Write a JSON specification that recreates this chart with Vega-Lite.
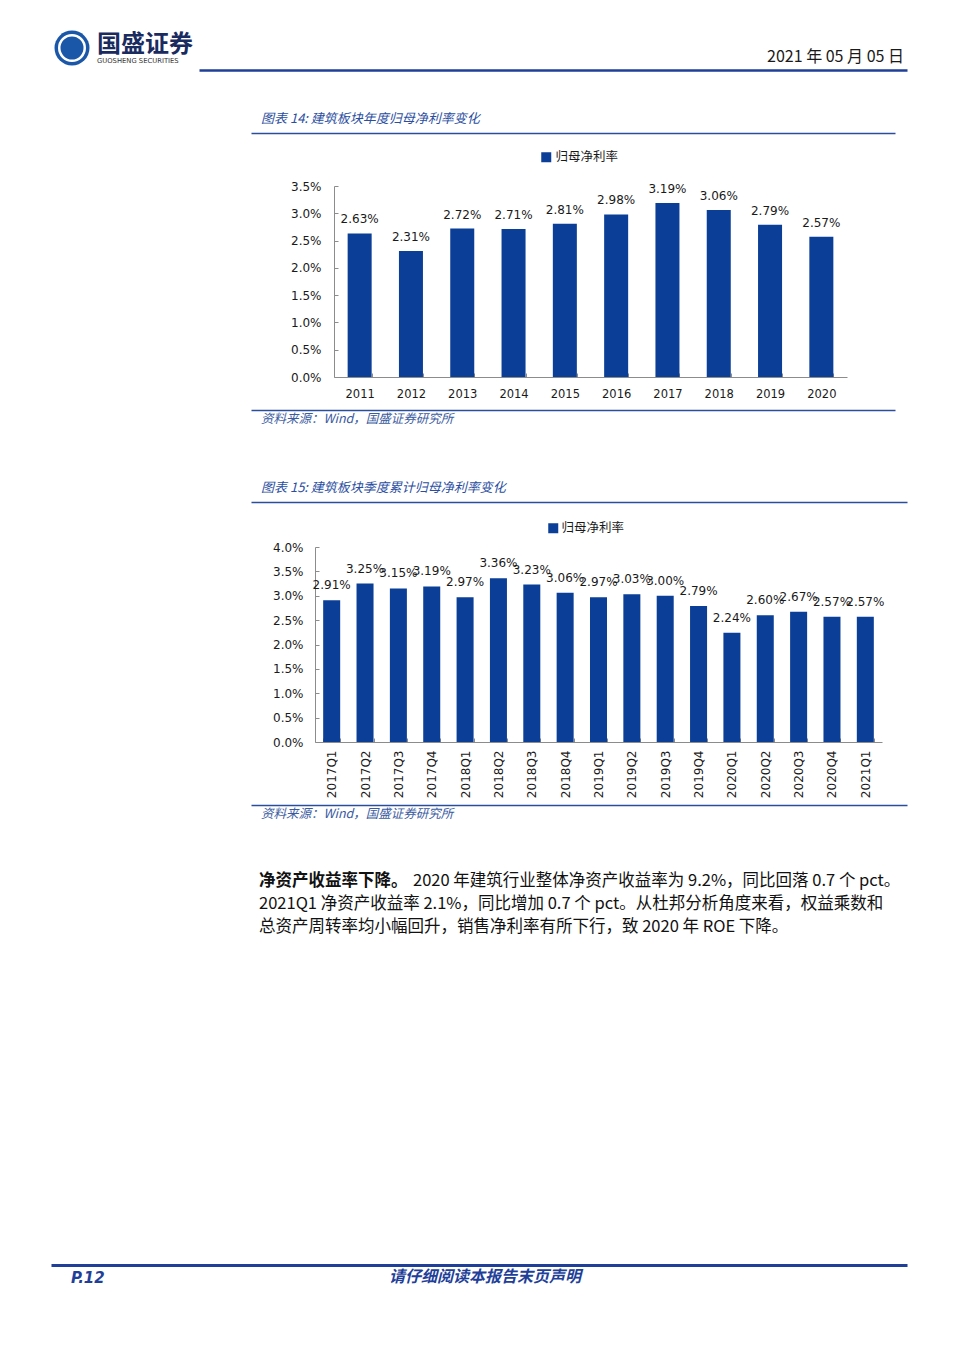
{
  "$schema": "https://vega.github.io/schema/vega-lite/v6.json",
  "padding": {"left": -7, "top": 0, "right": 0, "bottom": 0},
  "background": "white",
  "bounds": "flush",
  "spacing": 0,
  "resolve": {"scale": {"color": "independent"}, "legend": {"color": "independent"}},
  "config": {
    "view": {"stroke": null},
    "font": "DejaVu Sans",
    "title": {"anchor": "start", "frame": "group", "offset": 0, "fontWeight": "normal", "font": "Noto Sans CJK SC", "color": "#222222"},
    "axis": {"grid": false, "title": null, "domainColor": "#8c8c8c", "tickColor": "#8c8c8c", "labelColor": "#1a1a1a", "labelFont": "DejaVu Sans", "labelFontSize": 12}
  },
  "vconcat": [
    {"width": 960, "height": 30, "data": {"values": []}, "mark": "point", "view": {"fill": "white", "stroke": null}},
    {
      "width": 146, "height": 36,
      "data": {"values": [{"t": "S"}]},
      "title": {"text": "国盛证券", "subtitle": "GUOSHENG SECURITIES", "anchor": "start", "dx": 98, "offset": -35, "fontSize": 24, "fontWeight": "bold", "font": "Noto Sans CJK SC", "color": "#1a2b5f", "subtitleFont": "DejaVu Sans", "subtitleFontSize": 6.8, "subtitleColor": "#333333", "subtitlePadding": 1},
      "layer": [
        {"mark": {"type": "point", "shape": "circle", "filled": true, "size": 1225, "color": "#1b57a8", "opacity": 1}},
        {"mark": {"type": "point", "shape": "circle", "filled": false, "size": 650, "color": "white", "strokeWidth": 2.5, "opacity": 1}},
        {"mark": {"type": "text", "color": "#1b57a8", "fontSize": 22, "fontWeight": "bold", "font": "DejaVu Sans", "baseline": "middle"}, "encoding": {"text": {"field": "t"}}}
      ]
    },
    {
      "width": 908, "height": 4,
      "data": {"values": [{}]},
      "mark": {"type": "point", "opacity": 0},
      "encoding": {"x": {"datum": 0, "type": "quantitative", "scale": {"domain": [0, 1], "range": [200, 908]},
        "axis": {"orient": "bottom", "domainColor": "#1f3f99", "domainWidth": 2.5, "ticks": false, "labels": false}}},
      "title": {"text": "2021 年 05 月 05 日", "anchor": "end", "dx": -3, "offset": 0, "fontSize": 16, "font": "Noto Sans CJK SC", "color": "#1a1a1a"}
    },
    {"width": 0.001, "height": 63, "data": {"values": []}, "mark": "point"},
    {
      "width": 896, "height": 0.001,
      "data": {"values": [{}]},
      "mark": {"type": "point", "opacity": 0},
      "encoding": {"x": {"datum": 0, "type": "quantitative", "scale": {"domain": [0, 1], "range": [252, 896]},
        "axis": {"orient": "top", "domainColor": "#2a4d9c", "domainWidth": 1.6, "ticks": false, "labels": false}}},
      "title": {"text": "图表 14:  建筑板块年度归母净利率变化", "anchor": "start", "dx": 262, "offset": 4, "fontSize": 13, "fontStyle": "italic", "color": "#2b4e9f"}
    },
    {"width": 0.001, "height": 52, "data": {"values": []}, "mark": "point"},
    {
      "width": 848, "height": 191,
      "data": {"values": [
        {"year": "2011", "rate": 0.0263},
        {"year": "2012", "rate": 0.0231},
        {"year": "2013", "rate": 0.0272},
        {"year": "2014", "rate": 0.0271},
        {"year": "2015", "rate": 0.0281},
        {"year": "2016", "rate": 0.0298},
        {"year": "2017", "rate": 0.0319},
        {"year": "2018", "rate": 0.0306},
        {"year": "2019", "rate": 0.0279},
        {"year": "2020", "rate": 0.0257}
      ]},
      "encoding": {
        "x": {"field": "year", "type": "ordinal", "sort": null, "scale": {"range": [335, 848], "paddingInner": 0.532, "paddingOuter": 0.266},
              "axis": {"labelAngle": 0, "labelPadding": 15, "tickBand": "extent", "tickSize": -4, "labelFontSize": 11.5}},
        "y": {"field": "rate", "type": "quantitative", "scale": {"domain": [0, 0.035], "nice": false},
              "axis": {"format": ".1%", "values": [0, 0.005, 0.01, 0.015, 0.02, 0.025, 0.03, 0.035], "offset": -335, "tickSize": -4, "labelPadding": 17}}
      },
      "layer": [
        {"mark": {"type": "bar", "stroke": null},
         "encoding": {"color": {"datum": "归母净利率", "scale": {"range": ["#0b3e96"]},
           "legend": {"orient": "none", "legendX": 541, "legendY": -35, "title": null, "symbolType": "square", "symbolSize": 100, "symbolStrokeWidth": 0, "labelFont": "Noto Sans CJK SC", "labelFontSize": 12.5, "labelColor": "#1a1a1a", "padding": 0, "labelOffset": 3}}}},
        {"mark": {"type": "text", "baseline": "middle", "dy": -14, "font": "DejaVu Sans", "fontSize": 12, "color": "#1a1a1a"},
         "encoding": {"text": {"field": "rate", "type": "quantitative", "format": ".2%"}}}
      ]
    },
    {"width": 0.001, "height": 33, "data": {"values": []}, "mark": "point"},
    {
      "width": 896, "height": 0.001,
      "data": {"values": [{}]},
      "mark": {"type": "point", "opacity": 0},
      "encoding": {"x": {"datum": 0, "type": "quantitative", "scale": {"domain": [0, 1], "range": [252, 896]},
        "axis": {"orient": "top", "domainColor": "#2a4d9c", "domainWidth": 1.6, "ticks": false, "labels": false}}},
      "title": {"text": "资料来源：Wind，国盛证券研究所", "orient": "bottom", "anchor": "start", "dx": 262, "offset": 0, "fontSize": 12.5, "fontStyle": "italic", "color": "#3a5ba0"}
    },
    {"width": 0.001, "height": 91, "data": {"values": []}, "mark": "point"},
    {
      "width": 908, "height": 0.001,
      "data": {"values": [{}]},
      "mark": {"type": "point", "opacity": 0},
      "encoding": {"x": {"datum": 0, "type": "quantitative", "scale": {"domain": [0, 1], "range": [252, 908]},
        "axis": {"orient": "top", "domainColor": "#2a4d9c", "domainWidth": 1.6, "ticks": false, "labels": false}}},
      "title": {"text": "图表 15:  建筑板块季度累计归母净利率变化", "anchor": "start", "dx": 262, "offset": 4, "fontSize": 13, "fontStyle": "italic", "color": "#2b4e9f"}
    },
    {"width": 0.001, "height": 44, "data": {"values": []}, "mark": "point"},
    {
      "width": 883, "height": 195,
      "data": {"values": [
        {"quarter": "2017Q1", "rate": 0.0291},
        {"quarter": "2017Q2", "rate": 0.0325},
        {"quarter": "2017Q3", "rate": 0.0315},
        {"quarter": "2017Q4", "rate": 0.0319},
        {"quarter": "2018Q1", "rate": 0.0297},
        {"quarter": "2018Q2", "rate": 0.0336},
        {"quarter": "2018Q3", "rate": 0.0323},
        {"quarter": "2018Q4", "rate": 0.0306},
        {"quarter": "2019Q1", "rate": 0.0297},
        {"quarter": "2019Q2", "rate": 0.0303},
        {"quarter": "2019Q3", "rate": 0.0300},
        {"quarter": "2019Q4", "rate": 0.0279},
        {"quarter": "2020Q1", "rate": 0.0224},
        {"quarter": "2020Q2", "rate": 0.0260},
        {"quarter": "2020Q3", "rate": 0.0267},
        {"quarter": "2020Q4", "rate": 0.0257},
        {"quarter": "2021Q1", "rate": 0.0257}
      ]},
      "encoding": {
        "x": {"field": "quarter", "type": "ordinal", "sort": null, "scale": {"range": [316, 883], "paddingInner": 0.49, "paddingOuter": 0.245},
              "axis": {"labelAngle": -90, "labelPadding": 12, "tickBand": "extent", "tickSize": -4}},
        "y": {"field": "rate", "type": "quantitative", "scale": {"domain": [0, 0.04], "nice": false},
              "axis": {"format": ".1%", "values": [0, 0.005, 0.01, 0.015, 0.02, 0.025, 0.03, 0.035, 0.04], "offset": -316, "tickSize": -4, "labelPadding": 16}}
      },
      "layer": [
        {"mark": {"type": "bar", "stroke": null},
         "encoding": {"color": {"datum": "归母净利率", "scale": {"range": ["#0b3e96"]},
           "legend": {"orient": "none", "legendX": 548, "legendY": -25, "title": null, "symbolType": "square", "symbolSize": 100, "symbolStrokeWidth": 0, "labelFont": "Noto Sans CJK SC", "labelFontSize": 12.5, "labelColor": "#1a1a1a", "padding": 0, "labelOffset": 2}}}},
        {"mark": {"type": "text", "baseline": "middle", "dy": -15, "font": "DejaVu Sans", "fontSize": 12, "color": "#1a1a1a"},
         "encoding": {"text": {"field": "rate", "type": "quantitative", "format": ".2%"}}}
      ]
    },
    {"width": 0.001, "height": 63, "data": {"values": []}, "mark": "point"},
    {
      "width": 908, "height": 0.001,
      "data": {"values": [{}]},
      "mark": {"type": "point", "opacity": 0},
      "encoding": {"x": {"datum": 0, "type": "quantitative", "scale": {"domain": [0, 1], "range": [252, 908]},
        "axis": {"orient": "top", "domainColor": "#2a4d9c", "domainWidth": 1.6, "ticks": false, "labels": false}}},
      "title": {"text": "资料来源：Wind，国盛证券研究所", "orient": "bottom", "anchor": "start", "dx": 262, "offset": 0, "fontSize": 12.5, "fontStyle": "italic", "color": "#3a5ba0"}
    },
    {"width": 0.001, "height": 83, "data": {"values": []}, "mark": "point"},
    {"width": 1, "height": 0.001, "data": {"values": []}, "mark": "point",
     "title": {"text": "净资产收益率下降。", "dx": 260, "offset": 0, "fontSize": 16.5, "fontWeight": "bold", "color": "#111111"}},
    {"width": 1, "height": 0.001, "data": {"values": []}, "mark": "point",
     "title": {"text": "2020 年建筑行业整体净资产收益率为 9.2%，同比回落 0.7 个 pct。", "dx": 414, "offset": 1, "fontSize": 16.5, "color": "#111111"}},
    {"width": 0.001, "height": 21, "data": {"values": []}, "mark": "point"},
    {"width": 1, "height": 0.001, "data": {"values": []}, "mark": "point",
     "title": {"text": "2021Q1 净资产收益率 2.1%，同比增加 0.7 个 pct。从杜邦分析角度来看，权益乘数和", "dx": 260, "offset": 0, "fontSize": 16.5, "color": "#111111"}},
    {"width": 0.001, "height": 22, "data": {"values": []}, "mark": "point"},
    {"width": 1, "height": 0.001, "data": {"values": []}, "mark": "point",
     "title": {"text": "总资产周转率均小幅回升，销售净利率有所下行，致 2020 年 ROE 下降。", "dx": 260, "offset": 0, "fontSize": 16.5, "color": "#111111"}},
    {"width": 0.001, "height": 329, "data": {"values": []}, "mark": "point"},
    {
      "width": 908, "height": 0.001,
      "data": {"values": [{}]},
      "mark": {"type": "point", "opacity": 0},
      "encoding": {"x": {"datum": 0, "type": "quantitative", "scale": {"domain": [0, 1], "range": [52, 908]},
        "axis": {"orient": "top", "domainColor": "#1f3f99", "domainWidth": 3, "ticks": false, "labels": false}}},
      "title": {"text": "P.12", "orient": "bottom", "anchor": "start", "dx": 72, "offset": 3, "fontSize": 15, "fontWeight": "bold", "fontStyle": "italic", "font": "DejaVu Sans", "color": "#1f3f99"}
    },
    {"width": 1, "height": 0.001, "data": {"values": []}, "mark": "point",
     "title": {"text": "请仔细阅读本报告末页声明", "orient": "bottom", "anchor": "start", "dx": 390, "offset": 3, "fontSize": 16, "fontWeight": "bold", "fontStyle": "italic", "color": "#1f3f99"}}
  ]
}
